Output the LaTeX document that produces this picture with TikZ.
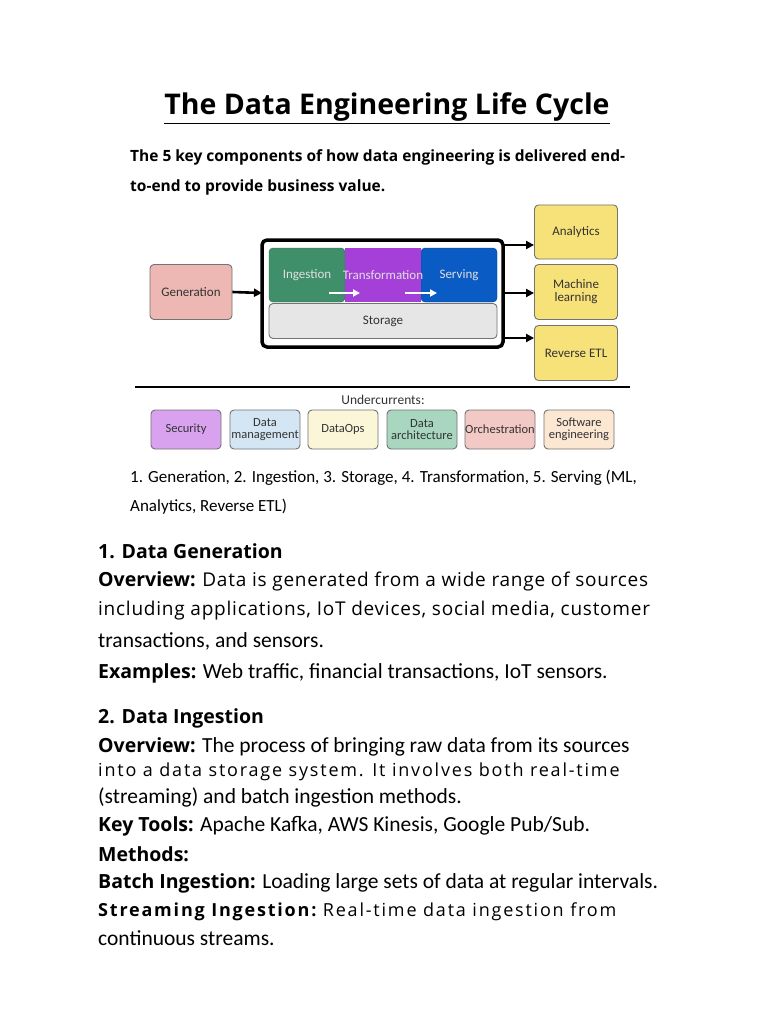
\documentclass[tikz,border=0pt]{standalone}
\usepackage{fontspec}
\setmainfont{Carlito}
\newfontfamily\osans{Open Sans}
\newfontfamily\osansw[LetterSpace=4]{Open Sans}
\newfontfamily\osansww[LetterSpace=10]{Open Sans}
\usetikzlibrary{arrows.meta}
\definecolor{genc}{HTML}{EDB8B4}
\definecolor{ingc}{HTML}{3E8F6A}
\definecolor{trc}{HTML}{A43FD8}
\definecolor{serc}{HTML}{0A5BC4}
\definecolor{stc}{HTML}{E6E6E6}
\definecolor{yel}{HTML}{F7E27A}
\definecolor{secc}{HTML}{D9A2EE}
\definecolor{dmc}{HTML}{D4E6F4}
\definecolor{dopc}{HTML}{FCF6D8}
\definecolor{dac}{HTML}{A9D6BF}
\definecolor{orc}{HTML}{F2C9C4}
\definecolor{swc}{HTML}{FBE7D2}
\begin{document}
\begin{tikzpicture}[x=1pt,y=-1pt,
  bx/.style={draw=black!55,line width=0.9pt,rounded corners=4pt,inner sep=0pt,align=center,font=\fontsize{13}{13}\selectfont,text=black!80},
  ar/.style={-{Triangle[length=8pt,width=8pt]},line width=2.6pt},
  war/.style={-{Triangle[length=7pt,width=7pt]},line width=2pt,white},
  txt/.style={anchor=west,inner sep=0pt,font=\fontsize{21.5}{21.5}\selectfont},
  sm/.style={anchor=west,inner sep=0pt,font=\fontsize{17}{17}\selectfont}]
\useasboundingbox[fill=white] (0,0) rectangle (768,1024);
\node[inner sep=0pt,font=\osans\bfseries\fontsize{28.5}{28.5}\selectfont] (title) at (387,108) {\underline{The Data Engineering Life Cycle}};
\node[sm,font=\osans\bfseries\fontsize{15.5}{15.5}\selectfont] (sub1) at (130,157) {The 5 key components of how data engineering is delivered end-};
\node[sm,font=\osans\bfseries\fontsize{15.5}{15.5}\selectfont] (sub2) at (130,187) {to-end to provide business value.};
% diagram
\node[bx,fill=genc,minimum width=82,minimum height=55] (gen) at (191,292) {Generation};
\draw[line width=3.5pt,rounded corners=5pt] (262,240) rectangle (503,347);
\coordinate (outerL) at (262,293);
\node[draw=ingc!70!black,fill=ingc,rounded corners=4pt,minimum width=76,minimum height=54] (ing) at (307,275) {};
\node[draw=serc!70!black,fill=serc,rounded corners=4pt,minimum width=76,minimum height=54] (ser) at (459,275) {};
\node[fill=trc,minimum width=76,minimum height=53.5,inner sep=0pt] (trn) at (383,275) {};
\node[text=white!88!black,font=\fontsize{13}{13}\selectfont] (ingt) at (307,275) {Ingestion};
\node[text=white!88!black,font=\fontsize{13}{13}\selectfont] (trnt) at (383,275) {Transformation};
\node[text=white!88!black,font=\fontsize{13}{13}\selectfont] (sert) at (459,275) {Serving};
\node[bx,fill=stc,minimum width=228,minimum height=35] (sto) at (383,321) {Storage};
\coordinate (w1a) at (329,293); \coordinate (w1b) at (360,293);
\coordinate (w2a) at (405,293); \coordinate (w2b) at (437,293);
\draw[war] (w1a) -- (w1b);
\draw[war] (w2a) -- (w2b);
\draw[ar] (gen.east) -- (outerL);
\node[bx,fill=yel,minimum width=83,minimum height=54] (ana) at (576,232) {Analytics};
\node[bx,fill=yel,minimum width=83,minimum height=55] (ml) at (576,292) {Machine\\learning};
\node[bx,fill=yel,minimum width=83,minimum height=55] (ret) at (576,353) {Reverse ETL};
\coordinate (o1) at (503,245); \coordinate (o2) at (503,293); \coordinate (o3) at (503,338);
\draw[ar] (o1) -- (ana.west|-o1);
\draw[ar] (o2) -- (ml.west|-o2);
\draw[ar] (o3) -- (ret.west|-o3);
\coordinate (hl1) at (135,387); \coordinate (hl2) at (630,387);
\draw[line width=2.2pt] (hl1) -- (hl2);
\node[font=\fontsize{13.5}{13.5}\selectfont,text=black!80] (und) at (383,400) {Undercurrents:};
\foreach \n/\x/\c/\t in {sec/186/secc/Security,dm/265/dmc/Data\\management,dop/343/dopc/DataOps,da/422/dac/Data\\architecture,orch/500/orc/Orchestration,sw/579/swc/Software\\engineering}
  \node[bx,fill=\c,minimum width=70,minimum height=39,font=\fontsize{12.5}{11.5}\selectfont] (\n) at (\x,429.5) {\t};
% text
\node[sm] (l1) at (130,478) {1. Generation, 2. Ingestion, 3. Storage, 4. Transformation, 5. Serving (ML,};
\node[sm] (l2) at (130,507) {Analytics, Reverse ETL)};
\node[txt,font=\osans\bfseries\fontsize{19.5}{19.5}\selectfont] (h1) at (98,551) {1. Data Generation};
\node[txt] (p1) at (98,581) {\osans\bfseries\fontsize{19.5}{19.5}\selectfont Overview: \osansw\mdseries\fontsize{19}{19}\selectfont Data is generated from a wide range of sources};
\node[txt] (p2) at (98,611) {\osansw\fontsize{19}{19}\selectfont including applications, IoT devices, social media, customer};
\node[txt] (p3) at (98,641) {transactions, and sensors.};
\node[txt] (p4) at (98,673) {{\osans\bfseries\fontsize{19.5}{19.5}\selectfont Examples:} Web traffic, financial transactions, IoT sensors.};
\node[txt,font=\osans\bfseries\fontsize{19.5}{19.5}\selectfont] (h2) at (98,718) {2. Data Ingestion};
\node[txt] (q1) at (98,747) {{\osans\bfseries\fontsize{19.5}{19.5}\selectfont Overview:} The process of bringing raw data from its sources};
\node[txt] (q2) at (98,772) {\osansww\fontsize{18}{18}\selectfont into a data storage system. It involves both real-time};
\node[txt] (q3) at (98,797) {(streaming) and batch ingestion methods.};
\node[txt] (q4) at (98,826) {{\osans\bfseries\fontsize{19.5}{19.5}\selectfont Key Tools:} Apache Kafka, AWS Kinesis, Google Pub/Sub.};
\node[txt,font=\osans\bfseries\fontsize{19.5}{19.5}\selectfont] (q5) at (98,854) {Methods:};
\node[txt] (q6) at (98,883) {{\osans\bfseries\fontsize{19.5}{19.5}\selectfont Batch Ingestion:} Loading large sets of data at regular intervals.};
\node[txt] (q7) at (98,912) {{\osansww\bfseries\fontsize{18}{18}\selectfont Streaming Ingestion:} {\osansww\fontsize{18}{18}\selectfont Real-time data ingestion from}};
\node[txt] (q8) at (98,938) {continuous streams.};
\end{tikzpicture}
\end{document}
